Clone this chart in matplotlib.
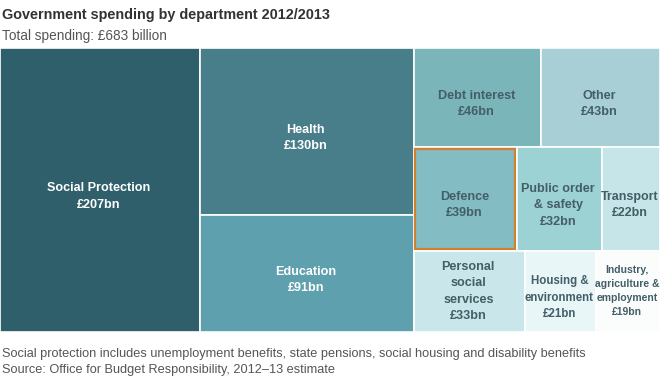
import matplotlib.pyplot as plt
from matplotlib.patches import Rectangle

plt.rcParams['font.family'] = ['Liberation Sans', 'DejaVu Sans']

departments = ["Social Protection", "Health", "Education", "Debt interest", "Other",
               "Defence", "Public order\n& safety", "Transport",
               "Personal\nsocial\nservices", "Housing &\nenvironment",
               "Industry,\nagriculture &\nemployment"]
spending = [207, 130, 91, 46, 43, 39, 32, 22, 33, 21, 19]
colors = ["#2e5f6b", "#487e8a", "#5fa0ae", "#7ab5b9", "#a8cfd5", "#84bcc4",
          "#9dd2d4", "#c6e5e9", "#c9e6ea", "#e8f6f8", "#fbfdfd"]
dark_text = [False, False, False, True, True, True, True, True, True, True, True]
label_size = [9.1, 9.1, 9.1, 9.1, 9.1, 9.1, 9.1, 9.0, 9.1, 8.3, 7.5]
highlight = "Defence"

# nesting of the treemap: top level splits left-right, next level top-bottom, ...
tree = [0, [1, 2], [[3, 4], [5, 6, 7], [8, 9, 10]]]


def total(node):
    if isinstance(node, int):
        return spending[node]
    return sum(total(n) for n in node)


def layout(node, x, y, w, h, horizontal, out):
    if isinstance(node, int):
        out[node] = (x, y, w, h)
        return
    t = total(node)
    pos = 0.0
    for child in node:
        frac = total(child) / t
        if horizontal:
            layout(child, x + pos * w, y, frac * w, h, False, out)
        else:
            layout(child, x, y + pos * h, w, frac * h, True, out)
        pos += frac


W, H = 660, 386
fig = plt.figure(figsize=(W / 100, H / 100), dpi=100)
ax = fig.add_axes([0, 0, 1, 1])
ax.set_xlim(0, W)
ax.set_ylim(H, 0)
ax.axis("off")

rects = {}
layout(tree, 0, 48, 660, 284, True, rects)

for i, name in enumerate(departments):
    x, y, w, h = rects[i]
    ax.add_patch(Rectangle((x, y), w, h, facecolor=colors[i], edgecolor="white", lw=1.2))
    if name == highlight:
        ax.add_patch(Rectangle((x + 1.5, y + 1.5), w - 3, h - 3, facecolor="none",
                               edgecolor="#d0802e", lw=1.6))
    tc = "#435e67" if dark_text[i] else "white"
    nlines = name.count("\n") + 2
    dy = 0 if nlines >= 4 else -4.5
    ax.annotate(name + "\n£%dbn" % spending[i], (x + w / 2 - 1, y + h / 2),
                xytext=(0, dy), textcoords="offset points",
                ha="center", va="center", fontsize=label_size[i], fontweight="bold",
                color=tc, linespacing=1.5)

ax.text(2, 19, "Government spending by department 2012/2013", fontsize=10.4,
        fontweight="bold", color="#333333", va="baseline")
ax.text(2, 40, "Total spending: £683 billion", fontsize=9.8, color="#555555", va="baseline")
ax.text(2, 357, "Social protection includes unemployment benefits, state pensions, "
        "social housing and disability benefits", fontsize=9.15, color="#555555", va="baseline")
ax.text(2, 373, "Source: Office for Budget Responsibility, 2012\u201313 estimate",
        fontsize=9.15, color="#555555", va="baseline")

fig.savefig("out.png", dpi=100)
